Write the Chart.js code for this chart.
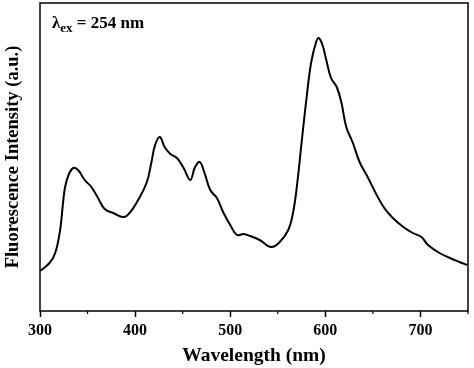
<!DOCTYPE html>
<html>
<head>
<meta charset="utf-8">
<script src="https://cdn.jsdelivr.net/npm/chart.js@4.4.0/dist/chart.umd.min.js"></script>
<style>
  html, body { margin: 0; padding: 0; background: #fff; }
  #wrap { width: 474px; height: 368px; }
</style>
</head>
<body>
<div id="wrap"><canvas id="spectrum"></canvas></div>
<script>
// ==============================
// DATA
// ==============================
const wavelength = [
  300, 310, 316, 321, 326, 330, 335, 340, 347, 354, 361, 368, 377, 388,
  395, 402, 412, 417, 421, 426, 431, 437, 444, 451, 458, 463, 468, 473,
  479, 486, 493, 500, 507, 514, 521, 531, 543, 552, 561, 566, 570, 575,
  580, 585, 590, 593, 597, 601, 606, 612, 617, 622, 629, 636, 645, 654,
  662, 671, 682, 692, 701, 708, 720, 731, 741, 749
];
const intensity = [
  40, 48, 58, 80, 122, 136, 143, 141, 131, 124, 113, 102, 98, 94,
  99, 109, 128, 148, 166, 174, 164, 157, 153, 143, 131, 144, 149, 138,
  121, 113, 98, 86, 76, 77, 75, 71, 64, 69, 81, 98, 124, 168,
  211, 248, 268, 273, 266, 251, 233, 224, 208, 184, 168, 149, 133, 116,
  103, 93, 84, 78, 74, 66, 58, 53, 49, 46
];
const majorTicks = [300, 400, 500, 600, 700];
const minorTicks = [350, 450, 550, 650, 750];

const AXIS_FONT = "'Liberation Serif', 'Times New Roman', serif";

// ==============================
// FRAME + MINOR TICKS + LABEL
// ==============================
const framePlugin = {
  id: "frame",
  afterDraw(chart) {
    const { ctx, chartArea: a, scales } = chart;
    ctx.save();
    ctx.strokeStyle = "#000";
    ctx.lineWidth = 1.5;
    ctx.strokeRect(a.left, a.top, a.right - a.left, a.bottom - a.top);

    // short minor ticks
    ctx.lineWidth = 1.2;
    minorTicks.forEach(v => {
      const x = scales.x.getPixelForValue(v);
      ctx.beginPath();
      ctx.moveTo(x, a.bottom);
      ctx.lineTo(x, a.bottom + 3);
      ctx.stroke();
    });

    // excitation label
    ctx.fillStyle = "#000";
    ctx.textBaseline = "alphabetic";
    ctx.font = "bold 17px " + AXIS_FONT;
    const x0 = a.left + 12, y0 = a.top + 25;
    ctx.fillText("λ", x0, y0);
    const w1 = ctx.measureText("λ").width;
    ctx.font = "bold 13px " + AXIS_FONT;
    ctx.fillText("ex", x0 + w1, y0 + 4);
    const w2 = ctx.measureText("ex").width;
    ctx.font = "bold 17px " + AXIS_FONT;
    ctx.fillText(" = 254 nm", x0 + w1 + w2, y0);
    ctx.restore();
  }
};

new Chart(document.getElementById("spectrum"), {
  type: "line",
  data: {
    datasets: [{
      data: wavelength.map((w, i) => ({ x: w, y: intensity[i] })),
      borderColor: "#000",
      borderWidth: 2,
      pointRadius: 0,
      tension: 0.4,
      fill: false
    }]
  },
  options: {
    responsive: true,
    maintainAspectRatio: false,
    animation: false,
    layout: { padding: { left: 2, right: 6, top: 3, bottom: 0 } },
    plugins: {
      legend: { display: false },
      tooltip: { enabled: false }
    },
    scales: {
      x: {
        type: "linear",
        min: 300,
        max: 750,
        afterBuildTicks(scale) {
          scale.ticks = majorTicks.map(v => ({ value: v }));
        },
        afterFit(scale) { scale.height = 57; },
        border: { display: false },
        grid: {
          drawOnChartArea: false,
          drawTicks: true,
          tickLength: 6,
          tickWidth: 1.5,
          tickColor: "#000"
        },
        ticks: {
          color: "#000",
          padding: 4,
          maxRotation: 0,
          font: { family: AXIS_FONT, size: 16, weight: "bold" }
        },
        title: {
          display: true,
          text: "Wavelength (nm)",
          color: "#000",
          padding: { top: 1, bottom: 0 },
          font: { family: AXIS_FONT, size: 19.5, weight: "bold" }
        }
      },
      y: {
        min: 0,
        max: 308,
        afterFit(scale) { scale.width = 38; },
        border: { display: false },
        grid: { display: false },
        ticks: { display: false },
        title: {
          display: true,
          text: "Fluorescence Intensity (a.u.)",
          color: "#000",
          padding: { top: 0, bottom: 0 },
          font: { family: AXIS_FONT, size: 18.5, weight: "bold" }
        }
      }
    }
  },
  plugins: [framePlugin]
});
</script>
</body>
</html>
